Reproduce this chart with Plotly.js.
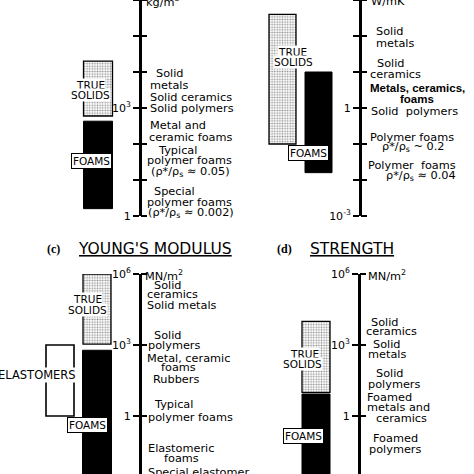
<!DOCTYPE html>
<html><head><meta charset="utf-8">
<script src="https://cdn.plot.ly/plotly-3.0.1.min.js"></script>
<style>html,body{margin:0;padding:0;background:#fff}#chart{width:474px;height:474px}</style>
</head><body><div id="chart"></div>
<script>
// ---------------- data ----------------
// [true solids, foams] lower / upper limits
const densityLow = [600, 1.6];            // kg/m3
const densityHigh = [20000, 430];
const conductivityLow = [0.1, 0.016];     // W/mK
const conductivityHigh = [400, 10];
// [true solids, foams, elastomers]
const modulusLow = [1100, 0.001, 1];      // MN/m2
const modulusHigh = [1e6, 600, 1000];
const strengthLow = [10, 0.001];          // MN/m2
const strengthHigh = [10000, 8.5];

const labelTicksA = [1, 1e3, 1e6];
const labelTextA = ['1', '10<sup>3</sup>', '10<sup>6</sup>'];
const minorTicksA = [10, 100, 1e4, 1e5];
const labelTicksB = [1e-3, 1, 1e3];
const labelTextB = ['10<sup>-3</sup>', '1', '10<sup>3</sup>'];
const minorTicksB = [1e-2, 1e-1, 10, 100];
const labelTicksCD = [1e-3, 1, 1e3, 1e6];
const labelTextCD = ['10<sup>-3</sup>', '1', '10<sup>3</sup>', '10<sup>6</sup>'];

const units = ['kg/m<sup>3</sup>', 'W/mK', 'MN/m<sup>2</sup>', 'MN/m<sup>2</sup>'];
const panelLetters = ['(c)', '(d)'];
const panelTitles = ["YOUNG'S MODULUS", 'STRENGTH'];

const labelsA = ['Solid', 'metals', 'Solid ceramics', 'Solid polymers', 'Metal and', 'ceramic foams',
  'Typical', 'polymer foams', '(ρ*/ρ<sub>s</sub> ≈ 0.05)', 'Special', 'polymer foams', '(ρ*/ρ<sub>s</sub> ≈ 0.002)'];
const labelsB = ['Solid', 'metals', 'Solid', 'ceramics', 'Metals, ceramics,', 'foams', 'Solid  polymers',
  'Polymer foams', 'ρ*/ρ<sub>s</sub> ~ 0.2', 'Polymer  foams', 'ρ*/ρ<sub>s</sub> ≈ 0.04'];
const boldB = [false, false, false, false, true, true, false, false, false, false, false];
const labelsC = ['Solid', 'ceramics', 'Solid metals', 'Solid', 'polymers', 'Metal, ceramic', 'foams', 'Rubbers',
  'Typical', 'polymer foams', 'Elastomeric', 'foams', 'Special elastomer'];
const labelsD = ['Solid', 'ceramics', 'Solid', 'metals', 'Solid', 'polymers', 'Foamed', 'metals and', 'ceramics',
  'Foamed', 'polymers'];

// ---------------- layout helpers (pixel positions) ----------------
const W = 474, H = 474;
const X = p => p / W, Y = p => 1 - p / H;
const FONT = 'DejaVu Sans';
const FS = 11.3;

const posA = [[155,73],[149,85],[149,97],[149,109],[149,126],[148,137],[157,150],[146,161],[150,172],[153,191],[146,202],[147,213]];
const posB = [[375,32],[375,43],[376,63],[369,75],[369,88],[399,99],[370,111],[369,137],[381,147],[367,166],[385,176]];
const posC = [[153,285],[146,294],[146,305],[153,335],[147,345],[146,358],[160,367],[152,379],[153,404],[147,417],[147,448],[163,458],[147,472]];
const posD = [[370,322],[365,331],[372,344],[367,354],[375,373],[367,384],[366,397],[366,407],[375,418],[372,438],[368,449]];

const stipple = {color:'#fff', line:{color:'#000', width:1.3},
  pattern:{shape:'.', fgcolor:'#222', bgcolor:'#fff', size:2.6, solidity:0.35, fillmode:'overlay'}};
const solid = {color:'#000', line:{color:'#000', width:1}};
const hollow = {color:'#fff', line:{color:'#000', width:1.6}};

function bar(xa, ya, xc, w, lo, hi, marker) {
  return {type:'bar', xaxis:xa, yaxis:ya, x:[xc], y:[hi - lo], base:[lo], width:[w],
    marker:marker, hoverinfo:'skip', showlegend:false};
}
function dummy(xa, ya) {
  return {type:'scatter', mode:'markers', xaxis:xa, yaxis:ya, x:[], y:[], hoverinfo:'skip', showlegend:false};
}

const traces = [
  bar('x', 'y', 98, 29, densityLow[0], densityHigh[0], stipple),
  bar('x', 'y', 98, 29, densityLow[1], densityHigh[1], solid),
  bar('x2', 'y2', 282.5, 27, conductivityLow[0], conductivityHigh[0], stipple),
  bar('x2', 'y2', 318.5, 27, conductivityLow[1], conductivityHigh[1], solid),
  bar('x3', 'y3', 97, 28, modulusLow[0], modulusHigh[0], stipple),
  bar('x3', 'y3', 97, 29, modulusLow[1], modulusHigh[1], solid),
  bar('x3', 'y3', 60, 28, modulusLow[2], modulusHigh[2], hollow),
  bar('x4', 'y4', 316, 28, strengthLow[0], strengthHigh[0], stipple),
  bar('x4', 'y4', 316, 28, strengthLow[1], strengthHigh[1], solid),
  dummy('x', 'y5'), dummy('x2', 'y6'), dummy('x3', 'y7'), dummy('x4', 'y8')
];

const topDomain = [Y(216), 1];
const botDomain = [0, Y(274)];
const botRange = [-2.45, 6];

function yAx(range, domain, pos, tv, tt, minor) {
  const a = {type:'log', range:range, domain:domain, anchor:'free', position:pos, side:'left',
    showline:true, linewidth:3, linecolor:'#000', ticks:'outside', ticklen:6, tickwidth:1.5, tickcolor:'#000',
    tickmode:'array', tickvals:tv, ticktext:tt, showgrid:false, zeroline:false, fixedrange:true,
    tickfont:{family:FONT, size:11, color:'#000'}};
  if (minor) a.minor = {tickmode:'array', tickvals:minor, ticks:'outside', ticklen:6, tickwidth:1.5, tickcolor:'#000', showgrid:false};
  return a;
}
function yOver(base, range, pos, tv) {
  return {type:'log', range:range, overlaying:base, anchor:'free', position:pos, side:'right',
    showline:false, ticks:'outside', ticklen:6, tickwidth:1.5, tickcolor:'#000',
    tickmode:'array', tickvals:tv, showticklabels:false, showgrid:false, zeroline:false, fixedrange:true};
}
function xAx(domain, range, anchor) {
  return {domain:domain, range:range, visible:false, fixedrange:true, anchor:anchor};
}

const ann = [];
function txt(text, px, py, size, opts) {
  ann.push(Object.assign({text:text, x:X(px), y:Y(py), xref:'paper', yref:'paper', showarrow:false,
    xanchor:'left', yanchor:'middle', borderpad:0, font:{family:FONT, size:size, color:'#000'}}, opts || {}));
}
labelsA.forEach((t, i) => txt(t, posA[i][0], posA[i][1], FS));
labelsB.forEach((t, i) => {
  if (boldB[i]) txt('<b>' + t + '</b>', posB[i][0], posB[i][1], 11.5, {font:{family:'Liberation Sans', size:11.5, color:'#000'}});
  else txt(t, posB[i][0], posB[i][1], FS);
});
labelsC.forEach((t, i) => txt(t, posC[i][0], posC[i][1], FS));
labelsD.forEach((t, i) => txt(t, posD[i][0], posD[i][1], FS));
txt(units[0], 145, 2, FS);
txt(units[1], 370, 2, FS);
txt(units[2], 144, 275, FS);
txt(units[3], 367, 275, FS);

const boxW = {bgcolor:'#fff', borderpad:0, xanchor:'center'};
const boxB = {bgcolor:'#fff', bordercolor:'#000', borderwidth:1, borderpad:1, xanchor:'center'};
txt('TRUE', 90, 85, 10.5, boxW); txt('SOLIDS', 90, 95, 10.5, boxW); txt('FOAMS', 91, 161, 10.5, boxB);
txt('TRUE', 292, 52, 10.5, boxW); txt('SOLIDS', 293, 62, 10.5, boxW); txt('FOAMS', 308, 153, 10.5, boxB);
txt('TRUE', 87, 299, 10.5, boxW); txt('SOLIDS', 87, 310, 10.5, boxW); txt('FOAMS', 87, 425, 10.5, boxB);
txt('ELASTOMERS', 37, 375, 11.5, boxW);
txt('TRUE', 304, 354, 10.5, boxW); txt('SOLIDS', 302, 364, 10.5, boxW); txt('FOAMS', 303, 436, 10.5, boxB);

txt('<b>' + panelLetters[0] + '</b>', 46, 249, 12, {font:{family:'Liberation Serif', size:12, color:'#000'}});
txt('<u>' + panelTitles[0] + '</u>', 77, 249, 15.5);
txt('<b>' + panelLetters[1] + '</b>', 276, 249, 12, {font:{family:'Liberation Serif', size:12, color:'#000'}});
txt('<u>' + panelTitles[1] + '</u>', 309, 249, 15.5);

const layout = {
  width:W, height:H, margin:{l:0, r:0, t:0, b:0}, paper_bgcolor:'#fff', plot_bgcolor:'rgba(0,0,0,0)',
  showlegend:false, barmode:'overlay',
  xaxis: xAx([0, 0.5], [0, 237], 'y'),
  xaxis2: xAx([0.5, 1], [237, 474], 'y2'),
  xaxis3: xAx([0, 0.5], [0, 237], 'y3'),
  xaxis4: xAx([0.5, 1], [237, 474], 'y4'),
  yaxis: yAx([0, 6], topDomain, X(140), labelTicksA, labelTextA, minorTicksA),
  yaxis2: yAx([-3, 3], topDomain, X(360), labelTicksB, labelTextB, minorTicksB),
  yaxis3: yAx(botRange, botDomain, X(140), labelTicksCD, labelTextCD, null),
  yaxis4: yAx(botRange, botDomain, X(359), labelTicksCD, labelTextCD, null),
  yaxis5: yOver('y', [0, 6], X(140), labelTicksA.concat(minorTicksA)),
  yaxis6: yOver('y2', [-3, 3], X(360), labelTicksB.concat(minorTicksB)),
  yaxis7: yOver('y3', botRange, X(140), labelTicksCD),
  yaxis8: yOver('y4', botRange, X(359), labelTicksCD),
  annotations: ann
};

Plotly.newPlot('chart', traces, layout, {staticPlot:true, displayModeBar:false});
</script></body></html>
